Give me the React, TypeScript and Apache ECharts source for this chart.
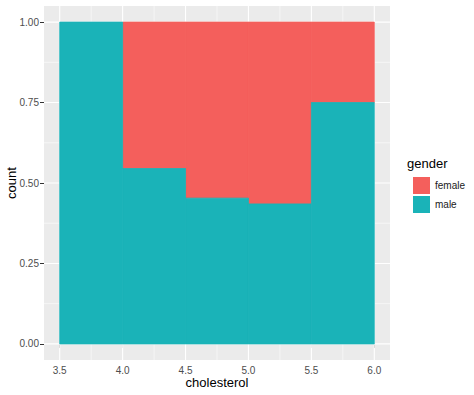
import React, { useEffect, useRef } from "react";
import * as echarts from "echarts";

const binStart = [3.5, 4.0, 4.5, 5.0, 5.5];
const binEnd = [4.0, 4.5, 5.0, 5.5, 6.0];
const maleFraction = [1.0, 0.545, 0.453, 0.435, 0.75];
const femaleFraction = [0.0, 0.455, 0.547, 0.565, 0.25];
const genders = ["female", "male"];
const genderColors = ["#F45F5C", "#1AB3B8"];
const xTicks = [3.5, 4.0, 4.5, 5.0, 5.5, 6.0];
const xMinor = [3.75, 4.25, 4.75, 5.25, 5.75];
const yTicks = [0, 0.25, 0.5, 0.75, 1.0];
const yMinor = [0.125, 0.375, 0.625, 0.875];

export default function App() {
  const ref = useRef<HTMLDivElement>(null);
  useEffect(() => {
    if (!ref.current) return;
    const chart = echarts.init(ref.current, null, { renderer: "svg" });
    const rows = binStart.map((s, i) => [s, binEnd[i], maleFraction[i], femaleFraction[i]]);
    const gridData: number[][] = [
      ...xMinor.map((v) => [0, v, 0]),
      ...yMinor.map((v) => [1, v, 0]),
      ...xTicks.map((v) => [0, v, 1]),
      ...yTicks.map((v) => [1, v, 1]),
    ];
    const font = "Liberation Sans, Arial, Helvetica, sans-serif";
    const makeBar = (which: number) => (params: any, api: any) => {
      const s = api.value(0), e = api.value(1), m = api.value(2), f = api.value(3);
      const lo = which === 1 ? 0 : m;
      const hi = which === 1 ? m : m + f;
      if (hi - lo <= 0) return null;
      const p0 = api.coord([s, hi]);
      const p1 = api.coord([e, lo]);
      return {
        type: "rect",
        shape: { x: p0[0], y: p0[1], width: p1[0] - p0[0], height: p1[1] - p0[1] },
        style: { fill: genderColors[which], stroke: genderColors[which], lineWidth: 0.8 },
      };
    };
    chart.setOption({
      animation: false,
      grid: {
        left: 44, top: 6, width: 346, height: 354,
        show: true, backgroundColor: "#EBEBEB", borderWidth: 0,
        containLabel: false, outerBoundsMode: "none",
      },
      xAxis: {
        type: "value", min: 3.375, max: 6.125,
        name: "cholesterol", nameLocation: "middle", nameGap: 16, nameMoveOverlap: false,
        nameTextStyle: { fontFamily: font, fontSize: 13, color: "#000", verticalAlign: "top" },
        axisLine: { show: false },
        axisTick: { show: true, length: 4, customValues: xTicks, lineStyle: { color: "#333", width: 1 } },
        axisLabel: { customValues: xTicks, margin: 5, fontFamily: font, fontSize: 10, color: "#4D4D4D", formatter: (v: number) => v.toFixed(1) },
        splitLine: { show: false },
      },
      yAxis: {
        type: "value", min: -0.05, max: 1.05,
        name: "count", nameLocation: "middle", nameGap: 26, nameRotate: 90, nameMoveOverlap: false,
        nameTextStyle: { fontFamily: font, fontSize: 13, color: "#000", verticalAlign: "bottom" },
        axisLine: { show: false },
        axisTick: { show: true, length: 4, customValues: yTicks, lineStyle: { color: "#333", width: 1 } },
        axisLabel: { customValues: yTicks, margin: 5, fontFamily: font, fontSize: 10, color: "#4D4D4D", formatter: (v: number) => v.toFixed(2) },
        splitLine: { show: false },
      },
      legend: {
        orient: "vertical", left: 408, top: 172,
        data: genders, icon: "rect", itemWidth: 17, itemHeight: 17, itemGap: 2,
        textStyle: { fontFamily: font, fontSize: 10, color: "#1A1A1A" },
        selectedMode: false,
      },
      graphic: [
        { type: "text", left: 407, top: 157, style: { text: "gender", fontFamily: font, fontSize: 13, fill: "#000" } },
      ],
      series: [
        {
          type: "custom", name: "grid", silent: true, z: 1,
          data: gridData,
          renderItem: (params: any, api: any) => {
            const kind = api.value(0), v = api.value(1), major = api.value(2);
            const cs = params.coordSys;
            const w = major ? 1.1 : 0.55;
            if (kind === 0) {
              const x = api.coord([v, 0])[0];
              return { type: "line", shape: { x1: x, y1: cs.y, x2: x, y2: cs.y + cs.height }, style: { stroke: "#FFFFFF", lineWidth: w } };
            }
            const y = api.coord([4, v])[1];
            return { type: "line", shape: { x1: cs.x, y1: y, x2: cs.x + cs.width, y2: y }, style: { stroke: "#FFFFFF", lineWidth: w } };
          },
          encode: { x: 1, y: 1 },
        },
        {
          type: "custom", name: "female", z: 2, color: genderColors[0],
          data: rows, renderItem: makeBar(0), encode: { x: [0, 1], y: [2, 3] },
        },
        {
          type: "custom", name: "male", z: 3, color: genderColors[1],
          data: rows, renderItem: makeBar(1), encode: { x: [0, 1], y: [2, 3] },
        },
      ],
    });
    return () => chart.dispose();
  }, []);
  return <div ref={ref} style={{ position: "absolute", left: 0, top: 0, width: 474, height: 395 }} />;
}
